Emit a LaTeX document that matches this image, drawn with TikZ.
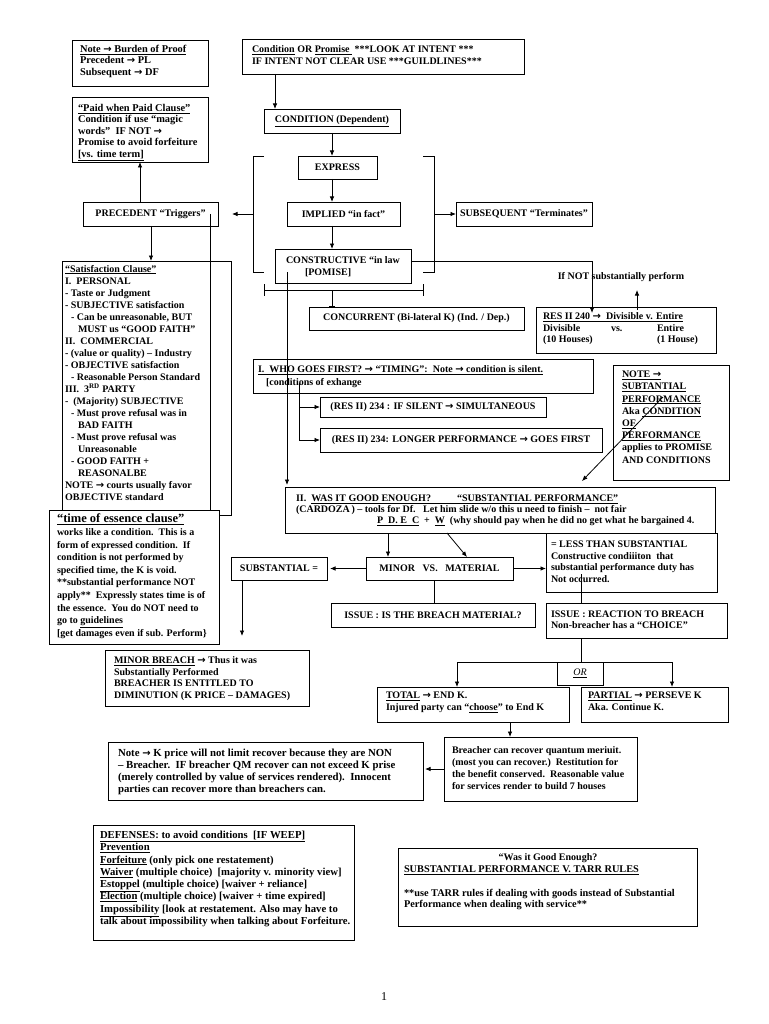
\documentclass[tikz,border=0pt]{standalone}
\usepackage{fontspec}
\setmainfont{Liberation Serif}
\newfontfamily\arrfont{DejaVu Sans}
\newcommand\rar{{\arrfont\bfseries\fontsize{10}{10}\selectfont →}}
\usetikzlibrary{arrows.meta,calc}
\tikzset{
  box/.style={draw=black,line width=0.9pt,inner sep=0pt,outer sep=0pt},
  txt/.style={inner sep=0pt,outer sep=0pt,anchor=north west,align=left,font=\bfseries\fontsize{10}{11.8}\selectfont},
  ln/.style={line width=0.8pt},
  arr/.style={line width=0.8pt,-{Latex[length=5.5pt,width=4.5pt]}},
}
\newcommand\bx[6][]{\node[box,minimum width={#5pt-#3pt},minimum height={#6pt-#4pt},anchor=north west,#1] (#2) at (#3,#4) {};}
\newcommand\cbx[7][]{\node[box,minimum width={#5pt-#3pt},minimum height={#6pt-#4pt},anchor=north west,font=\bfseries\fontsize{10}{12}\selectfont,#1] (#2) at (#3,#4) {#7};}
\begin{document}
\begin{tikzpicture}[x=1pt,y=-1pt]
\useasboundingbox[fill=white] (0,0) rectangle (768,1024);

% ---------- top left
\bx{burden}{72}{40}{208}{86}
\node[txt,font=\bfseries\fontsize{10.4}{11.5}\selectfont] (tburden) at (80,45) {\underline{Note \rar\ Burden of Proof}\\Precedent \rar\ PL\\Subsequent \rar\ DF};
\bx{paid}{72}{97}{208}{162}
\node[txt,font=\bfseries\fontsize{10.4}{11.5}\selectfont] (tpaid) at (78,104) {\underline{``Paid when Paid Clause''}\\Condition if use ``magic\\words''\ \ IF NOT \rar\\Promise to avoid forfeiture\\\underline{[vs. time term]}};

% ---------- top chain
\bx{top}{242}{39}{524}{74}
\node[txt,font=\bfseries\fontsize{10}{11.5}\selectfont] (ttop) at (252,46) {\underline{Condition} OR \underline{Promise\ } ***LOOK AT INTENT ***\\IF INTENT NOT CLEAR USE ***GUILDLINES***};
\cbx{cond}{264}{109}{400}{133}{\underline{CONDITION (Dependent)}}
\cbx{express}{298}{156}{377}{179}{EXPRESS}
\cbx{implied}{287}{202}{400}{226}{IMPLIED ``in fact''}
\bx{cons}{275}{249}{411}{283}
\node[txt,font=\bfseries\fontsize{10}{11.5}\selectfont] (tcons) at (286,257) {CONSTRUCTIVE ``in law\\\hspace*{19pt}[POMISE]};
\cbx{prec}{83}{202}{218}{226}{PRECEDENT ``Triggers''}
\cbx{subs}{456}{202}{592}{226}{SUBSEQUENT ``Terminates''}

\draw[arr] ([xshift=33pt]top.south west) -- ([xshift=11pt]cond.north west);
\draw[arr] ([xshift=68pt]cond.south west) -- ([xshift=34pt]express.north west);
\draw[arr] ([xshift=34pt]express.south west) -- ([xshift=45pt]implied.north west);
\draw[arr] ([xshift=45pt]implied.south west) -- ([xshift=57pt]cons.north west);

% brackets
\draw[ln] (264,156) -- (253,156) -- (253,272) -- (264,272);
\draw[ln] (423,156) -- (434,156) -- (434,272) -- (423,272);
\coordinate (lb) at (253,214);
\coordinate (rb) at (434,214);
\draw[arr] (lb) -- ([xshift=14pt]prec.east);
\draw[arr] (rb) -- (subs.west);
\draw[arr] ([xshift=57pt]prec.north west) -- ([xshift=68pt]paid.south west);

% bar under constructive
\draw[ln] (264,284) -- (264,296) (264,290) -- (423,290) (423,284) -- (423,296);
\coordinate (barm) at (332,290);
\cbx{conc}{309}{307}{524}{330}{CONCURRENT (Bi-lateral K) (Ind. / Dep.)}
\draw[ln,-{Bar[width=6pt,line width=0.8pt]}] (barm) -- ([xshift=23pt]conc.north west);

% RES II 240
\bx{res}{536}{307}{716}{353}
\node[txt,font=\bfseries\fontsize{10}{11.5}\selectfont] (tres) at (543,313) {\underline{RES II 240 \rar\ \ Divisible v. Entire}\\\makebox[68pt][l]{Divisible}\makebox[46pt][l]{vs.}Entire\\\makebox[114pt][l]{(10 Houses)}(1 House)};
\node[txt,anchor=center] (ifnot) at (621,277) {If NOT substantially perform};
\draw[arr] ([yshift=5pt]cons.east) -| ([xshift=56pt,yshift=-6pt]res.north west);
\draw[arr] ([xshift=101pt,yshift=-3pt]res.north west) -- ([xshift=101pt,yshift=17pt]res.north west);

% satisfaction clause
\bx{sat}{62}{261}{231}{515}
\node[txt,font=\bfseries\fontsize{10}{12}\selectfont] (tsat) at (65,265) {\underline{``Satisfaction Clause''}\\I.\ \ PERSONAL\\- Taste or Judgment\\- SUBJECTIVE satisfaction\\\hspace*{6pt}- Can be unreasonable, BUT\\\hspace*{13pt}MUST us ``GOOD FAITH''\\II.\ \ COMMERCIAL\\- (value or quality) -- Industry\\- OBJECTIVE satisfaction\\\hspace*{6pt}- Reasonable Person Standard\\III.\ \ 3\textsuperscript{RD} PARTY\\-\ \ (Majority) SUBJECTIVE\\\hspace*{6pt}- Must prove refusal was in\\\hspace*{13pt}BAD FAITH\\\hspace*{6pt}- Must prove refusal was\\\hspace*{13pt}Unreasonable\\\hspace*{6pt}- GOOD FAITH +\\\hspace*{13pt}REASONALBE\\NOTE \rar\ courts usually favor\\OBJECTIVE standard};
\draw[arr] ([xshift=68pt]prec.south west) -- ([xshift=89pt]sat.north west);
\draw[ln] ([xshift=-8pt]prec.east) -- ([xshift=148pt]sat.south west);

% time of essence
\bx[fill=white]{ess}{49}{510}{219}{644}
\node[txt,font=\bfseries\fontsize{10}{12.6}\selectfont] (tess) at (57,514) {{\fontsize{12.5}{12.6}\selectfont\underline{``time of essence clause''}}\\works like a condition.\ \ This is a\\form of expressed condition.\ \ If\\condition is not performed by\\specified time, the K is void.\\**substantial performance NOT\\apply**\ \ Expressly states time is of\\the essence.\ \ You do NOT need to\\go to \underline{guidelines}\\{}[get damages even if sub. Perform\}};

% timing
\bx{timing}{253}{359}{593}{393}
\node[txt,font=\bfseries\fontsize{10}{13}\selectfont] (ttiming) at (258,366) {\underline{I.\ \ WHO GOES FIRST? \rar\ ``TIMING'':\ \ Note \rar\ condition is silent.}\\\hspace*{8pt}[conditions of exhange};
\cbx{ea}{320}{397}{546}{417}{(RES II) 234 : IF SILENT \rar\ SIMULTANEOUS}
\cbx{eb}{320}{428}{602}{452}{(RES II) 234: LONGER PERFORMANCE \rar\ GOES FIRST}
\draw[arr] ([xshift=46pt,yshift=-24pt]timing.north west) |- (ea.west);
\draw[arr] ([xshift=46pt,yshift=-24pt]timing.north west) |- (eb.west);

% note substantial performance
\bx{note}{613}{365}{729}{480}
\node[txt,font=\bfseries\fontsize{10}{12.2}\selectfont] (tnote) at (622,371) {\underline{NOTE \rar}\\\underline{SUBTANTIAL}\\\underline{PERFORMANCE}\\Aka \underline{CONDITION}\\\underline{OF}\\\underline{PERFORMANCE}\\applies to PROMISE\\AND CONDITIONS};
\coordinate (notetip) at (582,481);
\draw[arr] ([xshift=50pt,yshift=-32pt]note.north west) -- (notetip);

% was it good enough
\bx{was}{285}{487}{715}{533}
\node[txt,font=\bfseries\fontsize{10}{11}\selectfont] (twas) at (296,495) {II.\ \ \underline{WAS IT GOOD ENOUGH?\hspace{26pt}``SUBSTANTIAL PERFORMANCE''}\\(CARDOZA\,) -- tools for Df.\ \ \ Let him slide w/o this u need to finish -- \ not fair\\\hspace*{81pt}\underline{P\ \ D.\ E\ \ C}\ \ +\ \ \underline{W}\ \ (why should pay when he did no get what he bargained 4.};
\draw[arr] ([xshift=12pt,yshift=-23pt]cons.north west) -- ([xshift=2pt,yshift=2pt]was.north west);

% breach section
\cbx{minor}{366}{557}{513}{580}{MINOR\ \ \ VS.\ \ \ MATERIAL}
\cbx{subst}{231}{557}{327}{580}{SUBSTANTIAL =}
\bx{less}{546}{533}{717}{592}
\node[txt,font=\bfseries\fontsize{10}{11.5}\selectfont] (tless) at (551,541) {= LESS THAN SUBSTANTIAL\\Constructive condiiiton\ \ that\\substantial performance duty has\\Not occurred.};
\cbx{issue}{331}{603}{535}{627}{ISSUE : IS THE BREACH MATERIAL?}
\bx{react}{546}{603}{727}{638}
\node[txt,font=\bfseries\fontsize{10}{11}\selectfont] (treact) at (551,611) {ISSUE : REACTION TO BREACH\\Non-breacher has a ``CHOICE''};
\cbx[font=\fontsize{10}{12}\selectfont\itshape]{orb}{557}{662}{603}{685}{\underline{OR}}

\draw[arr] ([xshift=162pt]was.south west) -- ([xshift=101pt]minor.north west);
\draw[arr] ([xshift=103pt]was.south west) -- ([xshift=22pt]minor.north west);
\draw[arr] (minor.west) -- ([xshift=3pt]subst.east);
\draw[arr] (minor.east) -- (minor.east -| less.west);
\draw[ln] ([xshift=68pt]minor.south west) -- ([xshift=103pt]issue.north west);
\draw[ln] ([xshift=35pt,yshift=18pt]less.south west) -- ([xshift=35pt]react.north west);
\draw[ln] ([xshift=35pt]react.south west) -- ([xshift=24pt]orb.north west);

\bx{minorb}{105}{650}{309}{706}
\node[txt,font=\bfseries\fontsize{10}{11.5}\selectfont] (tminorb) at (114,657) {\underline{MINOR BREACH} \rar\ Thus it was\\Substantially Performed\\BREACHER IS ENTITLED TO\\DIMINUTION (K PRICE -- DAMAGES)};
\draw[arr] ([xshift=11pt]subst.south west) -- ([xshift=137pt,yshift=14pt]minorb.north west);

\bx{total}{377}{687}{569}{722}
\node[txt,font=\bfseries\fontsize{10}{12}\selectfont] (ttotal) at (386,692) {\underline{TOTAL} \rar\ END K.\\Injured party can ``\underline{choose}'' to End K};
\bx{partial}{581}{687}{728}{722}
\node[txt,font=\bfseries\fontsize{10}{12}\selectfont] (tpartial) at (588,692) {\underline{PARTIAL} \rar\ PERSEVE K\\Aka. Continue K.};
\coordinate (hl) at (457,662);
\coordinate (hr) at (672,662);
\draw[ln] (hl) -- (hr);
\draw[arr] (hl) -- ([xshift=80pt]total.north west);
\draw[arr] (hr) -- ([xshift=91pt]partial.north west);

\bx{breacher}{444}{737}{637}{801}
\node[txt,font=\bfseries\fontsize{10}{12}\selectfont] (tbreacher) at (452,747) {Breacher can recover quantum meriuit.\\(most you can recover.)\ \ Restitution for\\the benefit conserved.\ \ Reasonable value\\for services render to build 7 houses};
\bx{note2}{108}{742}{423}{800}
\node[txt,font=\bfseries\fontsize{10.8}{12}\selectfont] (tnote2) at (118,749) {Note \rar\ K price will not limit recover because they are NON\\-- Breacher.\ \ IF breacher QM recover can not exceed K prise\\(merely controlled by value of services rendered).\ \ Innocent\\parties can recover more than breachers can.};
\draw[arr] ([xshift=133pt]total.south west) -- ([xshift=66pt]breacher.north west);
\draw[arr] (breacher.west) -- ([xshift=2pt]breacher.west -| note2.east);

% bottom boxes
\bx{def}{93}{825}{354}{940}
\node[txt,font=\bfseries\fontsize{10.7}{12.3}\selectfont] (tdef) at (100,831) {\underline{DEFENSES: to avoid conditions\ \ [IF WEEP]}\\\underline{Prevention}\\\underline{Forfeiture} (only pick one restatement)\\\underline{Waiver} (multiple choice)\ \ [majority v. minority view]\\\underline{Estoppel} (multiple choice) [waiver + reliance]\\\underline{Election} (multiple choice) [waiver + time expired]\\\underline{Impossibility} [look at restatement. Also may have to\\talk about impossibility when talking about Forfeiture.};
\bx{good}{398}{848}{697}{926}
\node[txt,anchor=center] (tgood1) at (548,858) {``Was it Good Enough?};
\node[txt,font=\bfseries\fontsize{10.3}{11.6}\selectfont] (tgood2) at (404,866) {\underline{SUBSTANTIAL PERFORMANCE V. TARR RULES}\\[11.6pt]**use TARR rules if dealing with goods instead of Substantial\\Performance when dealing with service**};

\node[inner sep=0pt,font=\fontsize{12}{14}\selectfont] (pg) at (384,997) {1};
\end{tikzpicture}
\end{document}
